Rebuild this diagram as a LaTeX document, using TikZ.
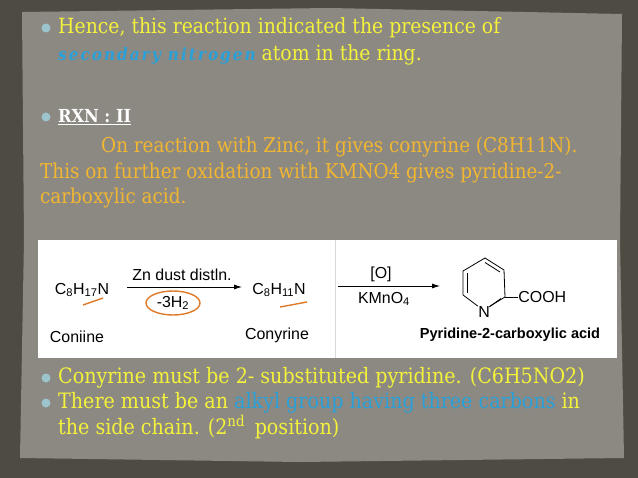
\documentclass[tikz,border=0pt]{standalone}
\usepackage{fontspec}
\setmainfont{DejaVu Serif Condensed}
\newfontfamily\arial{Liberation Sans}
\definecolor{outer}{HTML}{4E4C42}
\definecolor{panel}{HTML}{8C8983}
\definecolor{yel}{HTML}{F4F23A}
\definecolor{org}{HTML}{F2B630}
\definecolor{blu}{HTML}{2AA0D8}
\definecolor{bul}{HTML}{9CC4CC}
\definecolor{orr}{HTML}{E07A28}
\usetikzlibrary{arrows.meta}
\tikzset{x=1bp,y=-1bp,
 bullet/.style={circle,fill=bul,inner sep=0pt,minimum size=9bp},
 txt/.style={anchor=west,inner sep=0pt,font=\fontsize{21}{25}\selectfont},
 txtb/.style={anchor=west,inner sep=0pt,font=\fontsize{21.3}{25}\selectfont},
 chem/.style={inner sep=0pt,font=\arial\fontsize{16}{18}\selectfont},
 arr/.style={-{Latex[length=8bp,width=5bp]},line width=0.8bp}}
\begin{document}
\begin{tikzpicture}
\useasboundingbox (0,0) rectangle (638,478);
\fill[outer] (0,0) rectangle (638,478);
\fill[panel] (22,12) -- (330,8) -- (622,14) -- (620,240) -- (624,458) -- (300,462) -- (20,458) -- (24,240) -- cycle;
% bullets and text
\node[bullet] (b1) at (46,28) {};
\node[txt,text=yel] (t1) at (58,28) {Hence, this reaction indicated the presence of};
\node[txt,text=yel] (t2) at (58,55) {{\color{blu}\bfseries\itshape\fontsize{17}{20}\selectfont\addfontfeature{LetterSpace=12}secondary nitrogen} atom in the ring.};
\node[bullet] (b2) at (46,117) {};
\node[txt,text=white,font=\bfseries\fontsize{18}{20}\selectfont] (t3) at (58,117) {\underline{RXN : II}};
\node[txt,text=org,font=\fontsize{20.5}{24}\selectfont] (t4) at (101,147) {On reaction with Zinc, it gives conyrine (C8H11N).};
\node[txt,text=org,font=\fontsize{20.5}{24}\selectfont] (t5) at (40,173) {This on further oxidation with KMNO4 gives pyridine-2-};
\node[txt,text=org,font=\fontsize{20.5}{24}\selectfont] (t6) at (40,198) {carboxylic acid.};
% white reaction box
\fill[white] (38,240) rectangle (617,358);
\draw[gray!30,line width=1bp] (335,240) -- (335,358);
\node[chem] (c1) at (82,290) {C\textsubscript{8}H\textsubscript{17}N};
\node[chem] (co) at (77,337) {Coniine};
\node[chem] (c2) at (279,290) {C\textsubscript{8}H\textsubscript{11}N};
\node[chem] (cy) at (277,335) {Conyrine};
\coordinate (a1s) at (127,287); \coordinate (a1e) at (242,287);
\draw[arr] (a1s) -- (a1e);
\node[chem] (zn) at (182,275) {Zn dust distln.};
\node[chem] (h2) at (173,303) {-3H\textsubscript{2}};
\draw[orr,line width=1.4bp] (h2) ellipse (27bp and 12bp);
\draw[orr,line width=1.4bp] (83,305) -- (103,298);
\draw[orr,line width=1.4bp] (280,307) -- (307,302);
\coordinate (a2s) at (338,286); \coordinate (a2e) at (440,286);
\draw[arr] (a2s) -- (a2e);
\node[chem] (o) at (381,274) {[O]};
\node[chem] (km) at (384,299) {KMnO\textsubscript{4}};
% pyridine ring
\begin{scope}[line width=0.8bp]
\coordinate (p1) at (485,258); \coordinate (p2) at (504,270); \coordinate (p3) at (505,297);
\coordinate (p5) at (463,295); \coordinate (p6) at (463,271);
\node[chem] (N) at (484,312) {N};
\draw (p3) -- (p2) -- (p1) -- (p6) -- (p5) -- (N.north west);
\draw (N.north east) -- (p3);
\draw (485,262.5) -- (500,272);
\draw (467,273) -- (467,293);
\draw (489,307) -- (501,298.5);
\node[chem,anchor=west] (cooh) at (518,297) {COOH};
\draw (p3) -- (cooh.west);
\end{scope}
\node[chem,font=\arial\bfseries\fontsize{14.6}{17}\selectfont] (pl) at (510,335) {Pyridine-2-carboxylic acid};
% lower bullets
\node[bullet] (b3) at (46,378) {};
\node[txtb,text=yel] (t7) at (58,378) {Conyrine must be 2- substituted pyridine. (C6H5NO2)};
\node[bullet] (b4) at (46,403) {};
\node[txtb,text=yel] (t8) at (58,403) {There must be an {\color{blu}alkyl group having three carbons} in};
\node[txtb,text=yel] (t9) at (58,427) {the side chain. (2\textsuperscript{nd}\, position)};
\end{tikzpicture}
\end{document}
